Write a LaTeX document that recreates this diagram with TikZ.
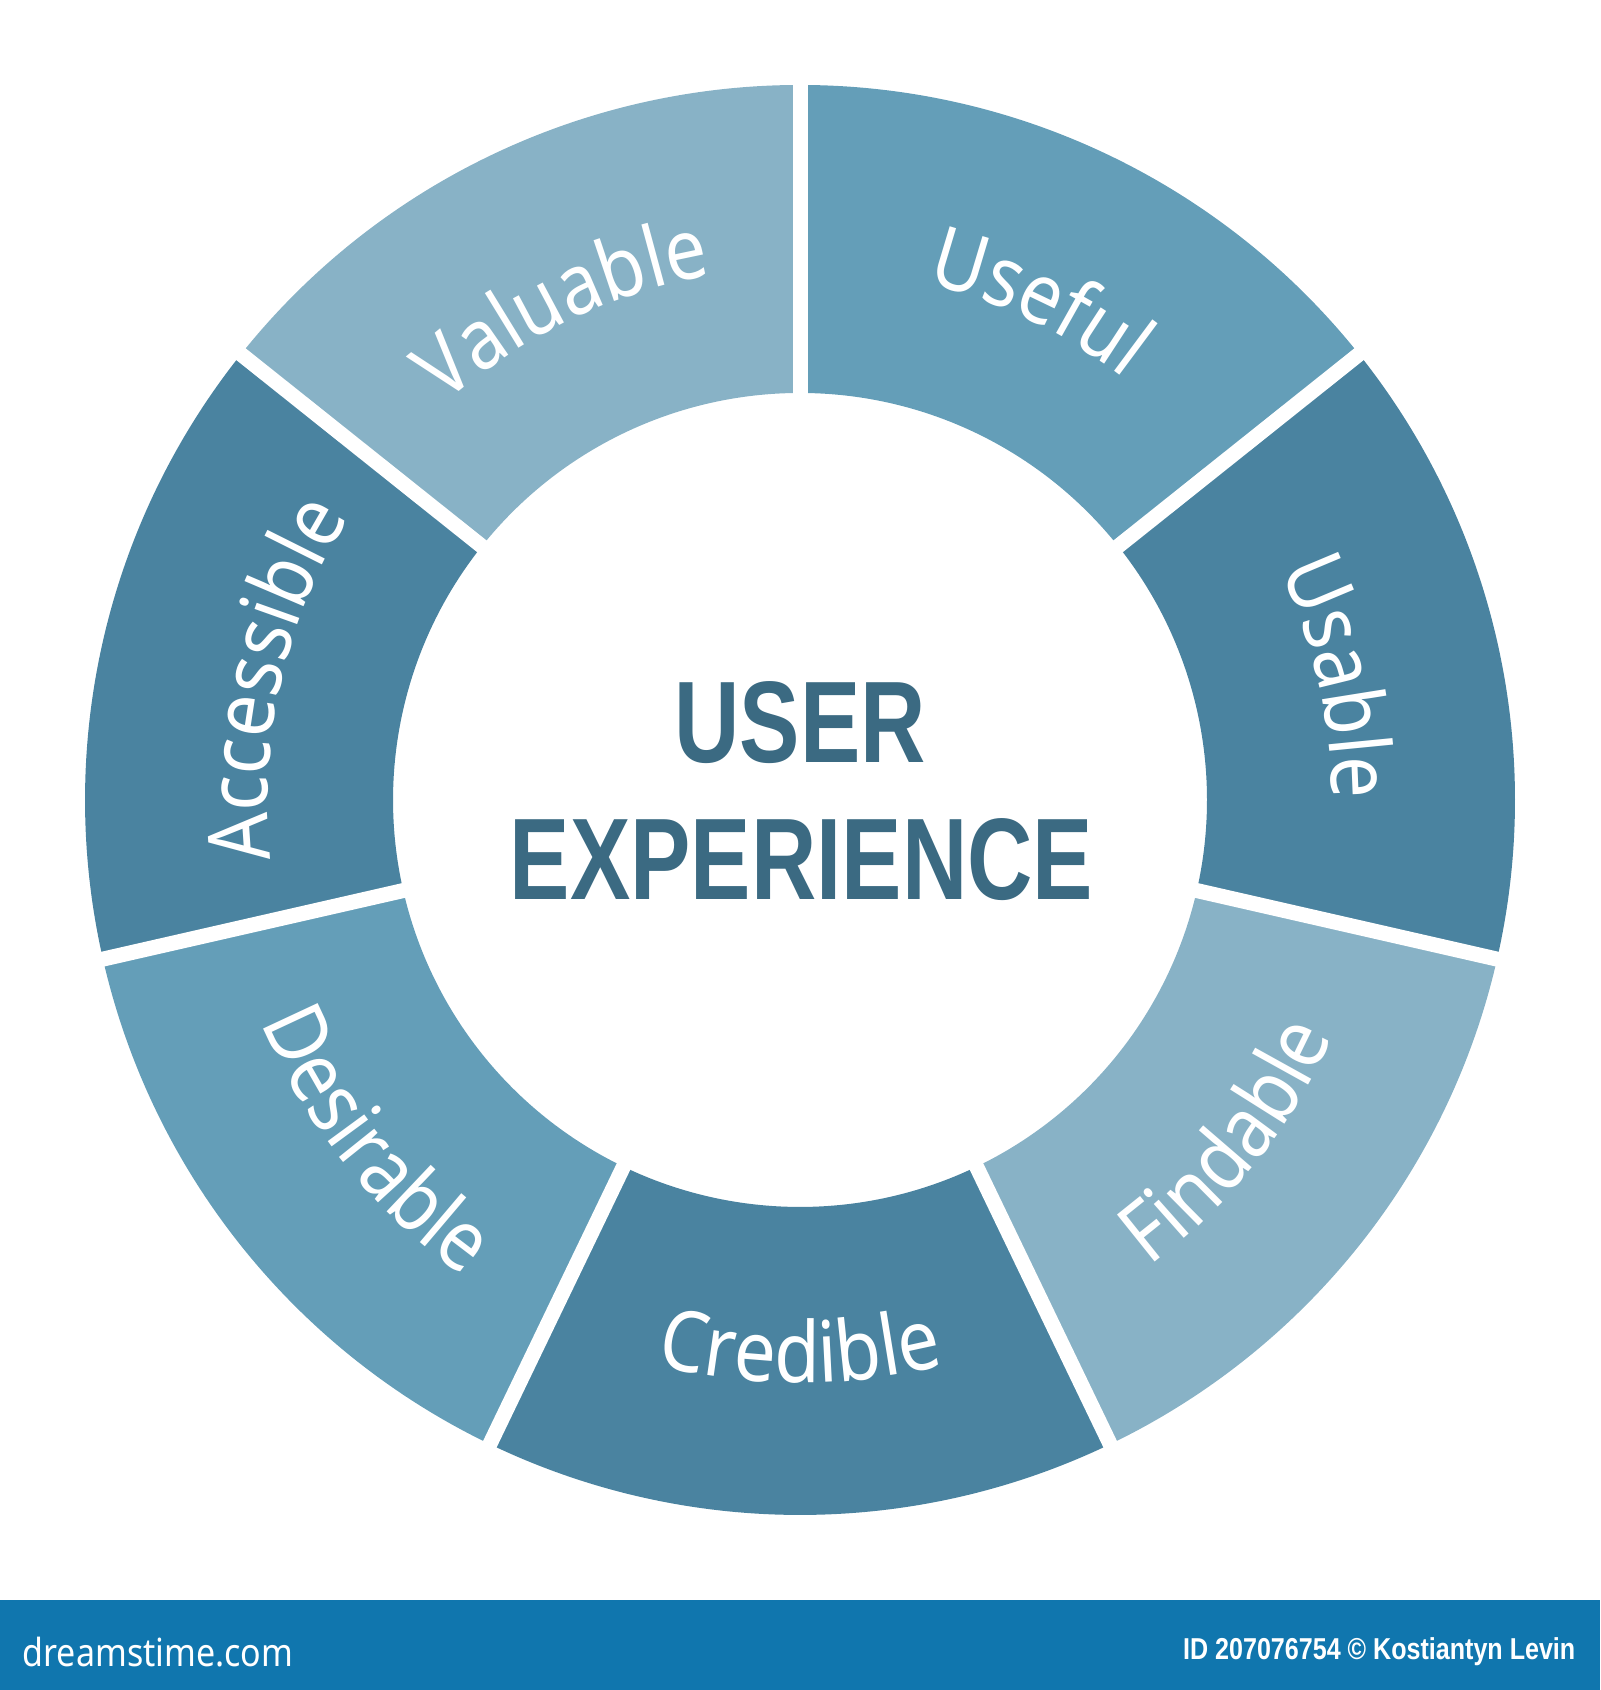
\documentclass[tikz,border=0pt]{standalone}
\usepackage{fontspec}
\usetikzlibrary{decorations.text}
\newfontfamily\labelfont[FakeStretch=0.88]{Noto Sans}
\newfontfamily\titlefont[FakeStretch=0.78]{Liberation Sans}
\newfontfamily\creditfont[FakeStretch=0.83]{Liberation Sans}
\definecolor{lightblue}{HTML}{88B2C6}
\definecolor{midblue}{HTML}{649EB8}
\definecolor{darkblue}{HTML}{4A83A0}
\definecolor{titleblue}{HTML}{3B6A82}
\definecolor{bannerblue}{HTML}{1076AE}
\tikzset{
  ring label/.style={decorate,decoration={text along path,text align=center,
    text color=white,text={|\fontsize{24}{28}\labelfont|#1}}},
  title/.style={font=\fontsize{33}{39}\titlefont\bfseries,text=titleblue,anchor=base,inner sep=0pt},
}
\begin{document}
\begin{tikzpicture}
\useasboundingbox (0,0) rectangle (16,16.9);
\coordinate (c) at (8,8.9);
\foreach \a/\col in {90/midblue,38.57/darkblue,-12.86/lightblue,-64.29/darkblue,
    -115.71/midblue,-167.14/darkblue,141.43/lightblue}
  \fill[\col,shift={(c)}] (\a:7.15) arc[start angle=\a,delta angle=-51.43,radius=7.15]
    -- (\a-51.43:4.07) arc[start angle=\a-51.43,delta angle=51.43,radius=4.07] -- cycle;
\foreach \a in {90,38.57,-12.86,-64.29,-115.71,-167.14,141.43}
  \draw[white,line width=0.15cm,shift={(c)}] (\a:4) -- (\a:7.3);
\foreach \a/\lab in {115.71/Valuable,64.29/Useful,12.86/Usable,167.14/Accessible}
  \path[ring label=\lab,shift={(c)}] (\a+25:5.32) arc[start angle=\a+25,end angle=\a-25,radius=5.32];
\foreach \a/\lab in {-38.57/Findable,-90/Credible,-141.43/Desirable}
  \path[ring label=\lab,shift={(c)}] (\a-25:5.83) arc[start angle=\a-25,end angle=\a+25,radius=5.83];
\node[title] (user) at (8,9.27) {USER};
\node[title] (experience) at (8.015,7.90) {EXPERIENCE};
\fill[bannerblue] (0,0) rectangle (16,0.9);
\node[font=\fontsize{11}{13}\labelfont,text=white,anchor=west,inner sep=0pt] (site) at (0.22,0.38) {dreamstime.com};
\node[font=\fontsize{8.6}{10}\creditfont\bfseries,text=white,anchor=east,inner sep=0pt] (credit) at (15.76,0.38) {ID 207076754 © Kostiantyn Levin};
\end{tikzpicture}
\end{document}
